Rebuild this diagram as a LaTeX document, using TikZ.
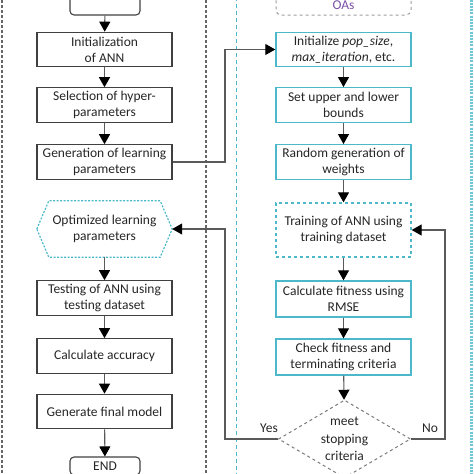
\documentclass[tikz,border=0pt]{standalone}
\usepackage{fontspec}
\setmainfont{Carlito}
\usetikzlibrary{arrows.meta,shapes.geometric}
\definecolor{cy}{HTML}{4DB8CA}
\definecolor{txt}{HTML}{262626}
\definecolor{bord}{HTML}{404040}
\definecolor{lin}{HTML}{5A5A5A}
\definecolor{oas}{HTML}{7A4FA6}
\tikzset{
  base/.style={minimum width=135pt, inner sep=0pt, align=center, text=txt,
    font=\fontsize{13.5}{16}\selectfont},
  lbox/.style={base, draw=bord, line width=1.1pt, minimum height=34.5pt},
  rbox/.style={base, draw=cy, line width=1.4pt, minimum height=34.5pt},
  rdash/.style={base, draw=cy, line width=1.3pt, dashed, minimum height=54pt},
  rnd/.style={base, draw=bord, line width=1.1pt, rounded corners=4pt, minimum width=70pt},
  hexa/.style={base, minimum height=56pt},
  dia/.style={diamond, draw=lin!80, dashed, line width=1pt, aspect=1.7, minimum width=132pt,
    minimum height=78pt, inner sep=0pt, align=center, text=txt, font=\fontsize{13.5}{17.5}\selectfont},
  conn/.style={draw=lin, line width=1.1pt, -{Triangle[length=10pt,width=11pt,color=black,fill=black]}},
  lab/.style={text=txt, font=\fontsize{13.5}{15}\selectfont},
}
\begin{document}
\begin{tikzpicture}[x=1pt,y=-1pt]
\useasboundingbox (0,0) rectangle (474,474);
\clip (0,0) rectangle (474,474);
% panels
\draw[draw=bord!80, line width=1.4pt, dash pattern=on 3pt off 2pt] (2,-10) -- (2,490);
\draw[draw=bord!80, line width=1.4pt, dash pattern=on 3pt off 2pt] (206,-10) -- (206,490);
\draw[draw=cy, line width=0.9pt, dash pattern=on 4pt off 3pt] (236,-10) -- (236,490);
\draw[draw=cy!80, line width=2.5pt, dash pattern=on 2pt off 1.2pt] (471.5,-10) -- (471.5,490);
% left column
\node[rnd, minimum height=30pt] (start) at (105,0) {};
\node[lbox] (init) at (104.5,49.5) {Initialization\\of ANN};
\node[lbox] (sel) at (104.5,105) {Selection of hyper-\\parameters};
\node[lbox] (gen) at (104.5,162) {Generation of learning\\parameters};
\node[hexa] (opt) at (104.5,229) {Optimized learning\\parameters};
\draw[draw=cy, line width=1.2pt, dash pattern=on 2pt off 1.5pt]
  (opt.west) -- ([xshift=12pt]opt.north west) -- ([xshift=-12pt]opt.north east)
  -- (opt.east) -- ([xshift=-12pt]opt.south east) -- ([xshift=12pt]opt.south west) -- cycle;
\node[lbox] (test) at (104.5,298) {Testing of ANN using\\testing dataset};
\node[lbox] (acc) at (104.5,356) {Calculate accuracy};
\node[lbox] (fin) at (104.5,411.5) {Generate final model};
\node[rnd, minimum height=18pt] (end) at (105,466) {END};
% right column
\node[base, draw=lin!60, dashed, line width=1pt, rounded corners=5pt, minimum height=19pt, text=oas] (oas) at (343.5,5.5) {OAs};
\node[rbox] (ini) at (343.5,49.5) {Initialize \textit{pop\_size},\\\textit{max\_iteration}, etc.};
\node[rbox] (bnd) at (343.5,105) {Set upper and lower\\bounds};
\node[rbox] (rand) at (343.5,162) {Random generation of\\weights};
\node[rdash] (train) at (343.5,230) {Training of ANN using\\training dataset};
\node[rbox, minimum height=36pt] (fit) at (343.5,299) {Calculate fitness using\\RMSE};
\node[rbox, minimum height=36pt] (chk) at (343.5,357) {Check fitness and\\terminating criteria};
\node[dia] (stop) at (344.5,439) {meet\\stopping\\criteria};
% connectors
\draw[conn] (start) -- (init);
\draw[conn] (init) -- (sel);
\draw[conn] (sel) -- (gen);
\draw[conn] (gen.east) -- (225,162) -- (225,49.5) -- (ini.west);
\draw[conn] (opt) -- (test);
\draw[conn] (test) -- (acc);
\draw[conn] (acc) -- (fin);
\draw[conn] (fin) -- (end);
\draw[conn] (ini) -- (bnd);
\draw[conn] (bnd) -- (rand);
\draw[conn] (rand) -- (train);
\draw[conn] (train) -- (fit);
\draw[conn] (fit) -- (chk);
\draw[conn] (chk) -- (stop);
\draw[conn] (stop.west) -- (225,439) -- (225,229) -- (opt.east);
\draw[conn] (stop.east) -- (445,439) -- (445,230) -- (train.east);
\node[lab] (yes) at (269,428) {Yes};
\node[lab] (no) at (430,428) {No};
\end{tikzpicture}
\end{document}
